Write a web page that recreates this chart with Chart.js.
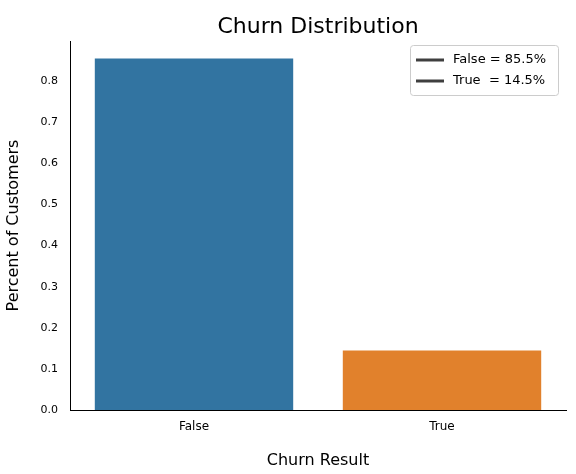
<!DOCTYPE html>
<html>
<head>
<meta charset="utf-8">
<script src="https://cdn.jsdelivr.net/npm/chart.js@4.4.0/dist/chart.umd.min.js"></script>
<style>
  html, body { margin: 0; padding: 0; background: #fff; }
  #wrap { width: 576px; height: 474px; }
</style>
</head>
<body>
<div id="wrap"><canvas id="chart"></canvas></div>
<script>
const categories = ["False", "True"];
const shares = [0.855, 0.145];
const barColors = ["#3274a1", "#e1812c"];
const legendLabels = ["False = 85.5%", "True  = 14.5%"];
const yTicks = [0, 0.1, 0.2, 0.3, 0.4, 0.5, 0.6, 0.7, 0.8];

const FONT = "'DejaVu Sans', sans-serif";

// title + line legend drawn by hand to match the matplotlib look
const decorations = {
    id: "decorations",
    afterDraw(chart) {
        const {ctx, chartArea: {left, right, top}} = chart;
        ctx.save();
        ctx.fillStyle = "#000";
        ctx.textAlign = "center";
        ctx.textBaseline = "alphabetic";
        ctx.font = "22px " + FONT;
        ctx.fillText("Churn Distribution", (left + right) / 2, top - 8);

        // legend box
        const bx = right - 156, by = top + 4, bw = 148, bh = 50;
        ctx.fillStyle = "rgba(255,255,255,0.8)";
        ctx.strokeStyle = "#cccccc";
        ctx.lineWidth = 1;
        ctx.beginPath();
        ctx.roundRect(bx + 0.5, by + 0.5, bw, bh, 3);
        ctx.fill();
        ctx.stroke();
        ctx.font = "13px " + FONT;
        ctx.textAlign = "left";
        ctx.textBaseline = "middle";
        legendLabels.forEach((label, i) => {
            const y = by + 15 + i * 21;
            ctx.strokeStyle = "#3f3f3f";
            ctx.lineWidth = 3;
            ctx.beginPath();
            ctx.moveTo(bx + 6, y);
            ctx.lineTo(bx + 34, y);
            ctx.stroke();
            ctx.fillStyle = "#000";
            ctx.fillText(label, bx + 43, y);
        });
        ctx.restore();
    },
};

new Chart(document.getElementById("chart"), {
    type: "bar",
    data: {
        labels: categories,
        datasets: [{
            data: shares,
            backgroundColor: barColors,
            borderWidth: 0,
            categoryPercentage: 1.0,
            barPercentage: 0.8,
        }],
    },
    options: {
        responsive: true,
        maintainAspectRatio: false,
        animation: false,
        devicePixelRatio: 1,
        layout: {padding: {top: 41, right: 10, left: 0, bottom: 0}},
        plugins: {legend: {display: false}, tooltip: {enabled: false}},
        scales: {
            x: {
                grid: {display: false, drawTicks: true},
                border: {color: "#000", width: 1},
                ticks: {color: "#000", font: {size: 12, family: FONT}, padding: 2},
                title: {display: true, text: "Churn Result", color: "#000",
                        font: {size: 16, family: FONT}, padding: {top: 4}},
                afterFit(axis) { axis.height = 64; },
            },
            y: {
                min: 0,
                max: 0.8978,
                grid: {display: false},
                border: {color: "#000", width: 1},
                afterBuildTicks(axis) { axis.ticks = yTicks.map(v => ({value: v})); },
                ticks: {color: "#000", font: {size: 11, family: FONT}, padding: 4,
                        callback: v => v.toFixed(1)},
                title: {display: true, text: "Percent of Customers", color: "#000",
                        font: {size: 16, family: FONT}, padding: {bottom: 6}},
                afterFit(axis) { axis.width = 70; },
            },
        },
    },
    plugins: [decorations],
});
</script>
</body>
</html>
